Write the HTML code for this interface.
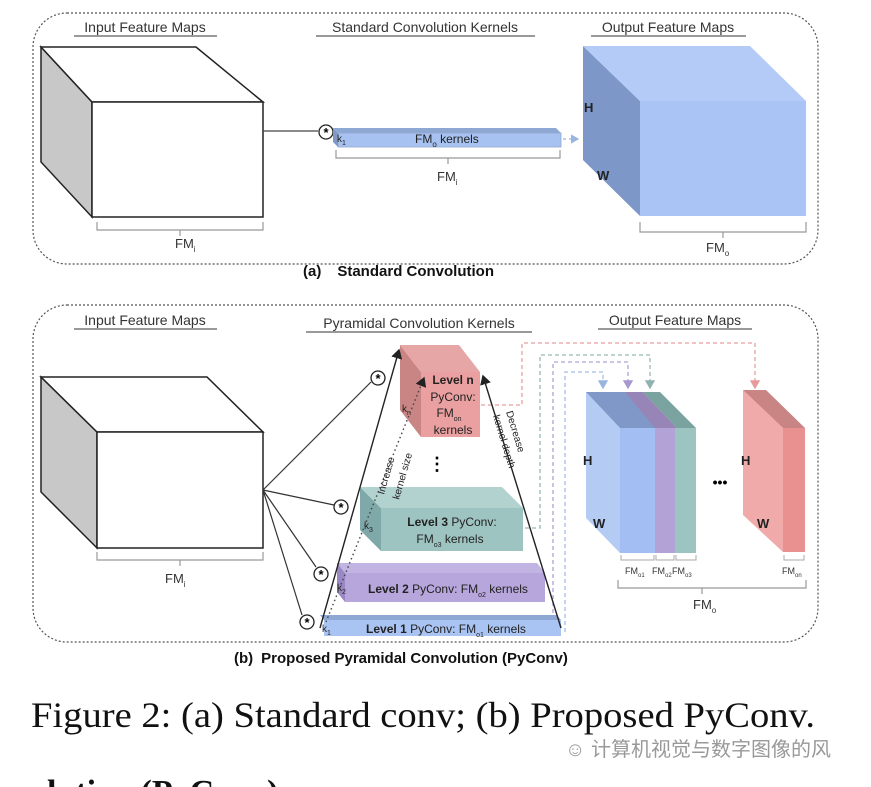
<!DOCTYPE html>
<html><head><meta charset="utf-8"><style>
html,body{margin:0;padding:0;background:#fff;overflow:hidden;}
svg{display:block;}
.s{font-family:"Liberation Sans",sans-serif;}
</style></head><body>
<svg width="871" height="787" viewBox="0 0 871 787" xmlns="http://www.w3.org/2000/svg" class="s">
<defs>
<marker id="ah" markerWidth="8" markerHeight="8" refX="6" refY="4" orient="auto"><path d="M0,0 L7,4 L0,8 z" fill="#222"/></marker>
<marker id="ab" markerWidth="8" markerHeight="8" refX="6" refY="4" orient="auto"><path d="M0,0 L7,4 L0,8 z" fill="#9ab4e0"/></marker>
<marker id="ap" markerWidth="8" markerHeight="8" refX="6" refY="4" orient="auto"><path d="M0,0 L7,4 L0,8 z" fill="#e89a9a"/></marker>
<marker id="av" markerWidth="8" markerHeight="8" refX="6" refY="4" orient="auto"><path d="M0,0 L7,4 L0,8 z" fill="#a898d0"/></marker>
<marker id="at" markerWidth="8" markerHeight="8" refX="6" refY="4" orient="auto"><path d="M0,0 L7,4 L0,8 z" fill="#8fb3b0"/></marker>
</defs>

<rect x="33" y="13" width="785" height="251" rx="34" fill="none" stroke="#555" stroke-width="1.2" stroke-dasharray="2,2"/>
<g font-size="14" fill="#333">
<text x="145" y="32" text-anchor="middle">Input Feature Maps</text>
<text x="425" y="32" text-anchor="middle">Standard Convolution Kernels</text>
<text x="668" y="32" text-anchor="middle">Output Feature Maps</text>
</g>
<line x1="74" y1="36" x2="217" y2="36" stroke="#333"/>
<line x1="316" y1="36" x2="535" y2="36" stroke="#333"/>
<line x1="591" y1="36" x2="746" y2="36" stroke="#333"/>

<polygon points="41,47 92,102 92,217 41,162" fill="#c8c8c8" stroke="#222" stroke-width="1.5"/>
<polygon points="41,47 196,47 263,102 92,102" fill="#fff" stroke="#222" stroke-width="1.5"/>
<rect x="92" y="102" width="171" height="115" fill="#fff" stroke="#222" stroke-width="1.5"/>
<path d="M97,222 v8 h166 v-8 M180,230 v6" fill="none" stroke="#999" stroke-width="1.2"/>
<text x="175" y="248" font-size="13" fill="#333">FM<tspan font-size="8" dy="4">i</tspan></text>

<line x1="263" y1="131" x2="318" y2="131" stroke="#444" stroke-width="1.3"/>
<circle cx="326" cy="132" r="7" fill="#fff" stroke="#222" stroke-width="1.3"/>
<text x="326" y="137" font-size="13" text-anchor="middle" font-weight="bold">*</text>
<polygon points="333,128 556,128 561,133 338,133" fill="#8ea8d4"/>
<rect x="338" y="133" width="223" height="14" fill="#a7c2f0" stroke="#90a8d0" stroke-width="0.8"/>
<polygon points="333,128 338,133 338,147 333,142" fill="#7f98c4"/>
<text x="337" y="142" font-size="10" fill="#222">k<tspan font-size="7" dy="3">1</tspan></text>
<text x="415" y="143" font-size="12" fill="#222">FM<tspan font-size="8" dy="4">o</tspan><tspan dy="-4"> kernels</tspan></text>
<path d="M336,150 v8 h224 v-8 M448,158 v6" fill="none" stroke="#999" stroke-width="1.2"/>
<text x="437" y="181" font-size="13" fill="#333">FM<tspan font-size="8" dy="4">i</tspan></text>
<line x1="563" y1="139" x2="578" y2="139" stroke="#9ab4e0" stroke-width="1.2" stroke-dasharray="3,3" marker-end="url(#ab)"/>

<polygon points="583,46 640,101 640,216 583,160" fill="#7e97c9"/>
<polygon points="583,46 750,46 806,101 640,101" fill="#b3cbf6"/>
<rect x="640" y="101" width="166" height="115" fill="#a9c4f5"/>
<text x="584" y="112" font-size="13" font-weight="bold" fill="#222">H</text>
<text x="597" y="180" font-size="13" font-weight="bold" fill="#222">W</text>
<path d="M640,222 v10 h166 v-10 M723,232 v6" fill="none" stroke="#999" stroke-width="1.2"/>
<text x="706" y="252" font-size="13" fill="#333">FM<tspan font-size="8" dy="4">o</tspan></text>
<text x="303" y="276" font-size="15" font-weight="bold" fill="#111">(a)<tspan dx="16">Standard Convolution</tspan></text>

<rect x="33" y="305" width="785" height="337" rx="34" fill="none" stroke="#555" stroke-width="1.2" stroke-dasharray="2,2"/>
<g font-size="14" fill="#333">
<text x="145" y="325" text-anchor="middle">Input Feature Maps</text>
<text x="419" y="328" text-anchor="middle">Pyramidal Convolution Kernels</text>
<text x="675" y="325" text-anchor="middle">Output Feature Maps</text>
</g>
<line x1="74" y1="329" x2="217" y2="329" stroke="#333"/>
<line x1="306" y1="332" x2="532" y2="332" stroke="#333"/>
<line x1="598" y1="329" x2="752" y2="329" stroke="#333"/>

<polygon points="41,377 97,432 97,548 41,492" fill="#c8c8c8" stroke="#222" stroke-width="1.5"/>
<polygon points="41,377 207,377 263,432 97,432" fill="#fff" stroke="#222" stroke-width="1.5"/>
<rect x="97" y="432" width="166" height="116" fill="#fff" stroke="#222" stroke-width="1.5"/>
<path d="M97,552 v8 h166 v-8 M180,560 v6" fill="none" stroke="#999" stroke-width="1.2"/>
<text x="165" y="583" font-size="13" fill="#333">FM<tspan font-size="8" dy="4">i</tspan></text>

<g stroke="#333" stroke-width="1.2">
<line x1="263" y1="490" x2="371" y2="382"/>
<line x1="263" y1="490" x2="334" y2="505"/>
<line x1="263" y1="490" x2="316" y2="567"/>
<line x1="263" y1="490" x2="302" y2="615"/>
</g>
<g fill="#fff" stroke="#222" stroke-width="1.3">
<circle cx="378" cy="378" r="7"/><circle cx="341" cy="507" r="7"/><circle cx="321" cy="574" r="7"/><circle cx="307" cy="622" r="7"/>
</g>
<g font-size="13" font-weight="bold" text-anchor="middle">
<text x="378" y="383">*</text><text x="341" y="512">*</text><text x="321" y="579">*</text><text x="307" y="627">*</text>
</g>

<path d="M481,405 H522 V343 H755 V388" fill="none" stroke="#e8a0a0" stroke-width="1.3" stroke-dasharray="4,3" marker-end="url(#ap)"/>
<path d="M525,528 H540 V355 H650 V388" fill="none" stroke="#98b8b4" stroke-width="1.3" stroke-dasharray="4,3" marker-end="url(#at)"/>
<path d="M553,620 V362 H628 V388" fill="none" stroke="#b0a2d8" stroke-width="1.3" stroke-dasharray="4,3" marker-end="url(#av)"/>
<path d="M565,632 V372 H603 V388" fill="none" stroke="#a4bce8" stroke-width="1.3" stroke-dasharray="4,3" marker-end="url(#ab)"/>

<polygon points="400,345 421,372 421,437 400,410" fill="#c98484"/>
<polygon points="400,345 459,345 480,372 421,372" fill="#e7a6a6"/>
<rect x="421" y="372" width="59" height="65" fill="#eaa0a0"/>
<g font-size="12" fill="#222" text-anchor="middle">
<text x="453" y="384" font-weight="bold">Level n</text>
<text x="453" y="401">PyConv:</text>
<text x="449" y="417">FM<tspan font-size="7" dy="4">on</tspan></text>
<text x="453" y="434">kernels</text>
</g>
<text x="402" y="412" font-size="10" fill="#222">k<tspan font-size="7" dy="3">n</tspan></text>
<text x="437" y="470" font-size="18" font-weight="bold" text-anchor="middle">⋮</text>

<polygon points="360,487 381,508 381,551 360,530" fill="#7fa8a8"/>
<polygon points="360,487 502,487 523,508 381,508" fill="#b2d2d0"/>
<rect x="381" y="508" width="142" height="43" fill="#9ec4c2"/>
<text x="452" y="526" font-size="12" fill="#222" text-anchor="middle"><tspan font-weight="bold">Level 3</tspan> PyConv:</text>
<text x="450" y="543" font-size="12" fill="#222" text-anchor="middle">FM<tspan font-size="7" dy="4">o3</tspan><tspan dy="-4"> kernels</tspan></text>
<text x="364" y="529" font-size="10" fill="#222">k<tspan font-size="7" dy="3">3</tspan></text>

<polygon points="337,563 537,563 545,573 345,573" fill="#c2b4e2"/>
<polygon points="337,563 345,573 345,602 337,592" fill="#9a88c4"/>
<rect x="345" y="573" width="200" height="29" fill="#b6a6dc"/>
<text x="448" y="593" font-size="12" fill="#222" text-anchor="middle"><tspan font-weight="bold">Level 2</tspan> PyConv: FM<tspan font-size="7" dy="4">o2</tspan><tspan dy="-4"> kernels</tspan></text>
<text x="337" y="591" font-size="10" fill="#222">k<tspan font-size="7" dy="3">2</tspan></text>

<polygon points="320,615 557,615 561,620 324,620" fill="#8ea8d4"/>
<rect x="324" y="620" width="237" height="16" fill="#a9c4f2"/>
<text x="446" y="633" font-size="12" fill="#222" text-anchor="middle"><tspan font-weight="bold">Level 1</tspan> PyConv: FM<tspan font-size="7" dy="4">o1</tspan><tspan dy="-4"> kernels</tspan></text>
<text x="322" y="632" font-size="10" fill="#222">k<tspan font-size="7" dy="3">1</tspan></text>

<line x1="320" y1="628" x2="399" y2="350" stroke="#222" stroke-width="1.4" marker-end="url(#ah)"/>
<line x1="561" y1="628" x2="483" y2="376" stroke="#222" stroke-width="1.4" marker-end="url(#ah)"/>
<line x1="326" y1="622" x2="424" y2="378" stroke="#444" stroke-width="1.4" stroke-dasharray="1.5,3" marker-end="url(#ah)"/>
<text transform="translate(384,495) rotate(-74)" font-size="10" fill="#222">Increase</text>
<text transform="translate(399,500) rotate(-74)" font-size="10" fill="#222">kernel size</text>
<text transform="translate(506,412) rotate(73)" font-size="10" fill="#222">Decrease</text>
<text transform="translate(493,416) rotate(73)" font-size="10" fill="#222">kernel depth</text>

<polygon points="586,392 620,428 620,553 586,518" fill="#b4cbf4"/>
<polygon points="586,392 625,392 660,428 620,428" fill="#7f98c8"/>
<polygon points="625,392 643,392 677,428 655,428" fill="#9685b6"/>
<polygon points="643,392 660,392 696,428 677,428" fill="#7aa29e"/>
<rect x="620" y="428" width="35" height="125" fill="#a2bef2"/>
<rect x="655" y="428" width="20" height="125" fill="#b3a2d6"/>
<rect x="675" y="428" width="21" height="125" fill="#9cc4c0"/>
<text x="583" y="465" font-size="13" font-weight="bold" fill="#222">H</text>
<text x="593" y="528" font-size="13" font-weight="bold" fill="#222">W</text>
<path d="M621,555 v5 h33 v-5 M656,555 v5 h18 v-5 M676,555 v5 h20 v-5" fill="none" stroke="#aaa" stroke-width="1"/>
<text x="625" y="574" font-size="9" fill="#333">FM<tspan font-size="6" dy="3">o1</tspan></text>
<text x="652" y="574" font-size="9" fill="#333">FM<tspan font-size="6" dy="3">o2</tspan></text>
<text x="672" y="574" font-size="9" fill="#333">FM<tspan font-size="6" dy="3">o3</tspan></text>
<text x="720" y="487" font-size="14" font-weight="bold" text-anchor="middle">•••</text>

<polygon points="743,390 783,428 783,552 743,515" fill="#f1aaaa"/>
<polygon points="743,390 766,390 805,428 783,428" fill="#c98484"/>
<rect x="783" y="428" width="22" height="124" fill="#e99191"/>
<text x="741" y="465" font-size="13" font-weight="bold" fill="#222">H</text>
<text x="757" y="528" font-size="13" font-weight="bold" fill="#222">W</text>
<path d="M784,555 v5 h20 v-5" fill="none" stroke="#aaa" stroke-width="1"/>
<text x="782" y="574" font-size="9" fill="#333">FM<tspan font-size="6" dy="3">on</tspan></text>
<path d="M618,580 v8 h188 v-8 M702,588 v6" fill="none" stroke="#999" stroke-width="1.2"/>
<text x="693" y="609" font-size="13" fill="#333">FM<tspan font-size="8" dy="4">o</tspan></text>

<text x="234" y="663" font-size="15" font-weight="bold" fill="#111">(b)<tspan dx="8">Proposed Pyramidal Convolution (PyConv)</tspan></text>

<text x="31" y="727" font-family="Liberation Serif, serif" font-size="36" fill="#111" textLength="784" lengthAdjust="spacingAndGlyphs">Figure 2: (a) Standard conv; (b) Proposed PyConv.</text>
<text x="565" y="756" font-family="Liberation Sans, 'Noto Sans CJK SC', sans-serif" font-size="20" fill="#999">☺ 计算机视觉与数字图像的风</text>
<text x="30" y="803" font-family="Liberation Serif, serif" font-size="34" font-weight="bold" fill="#111">olution (PyConv)</text>
</svg>
</body></html>
